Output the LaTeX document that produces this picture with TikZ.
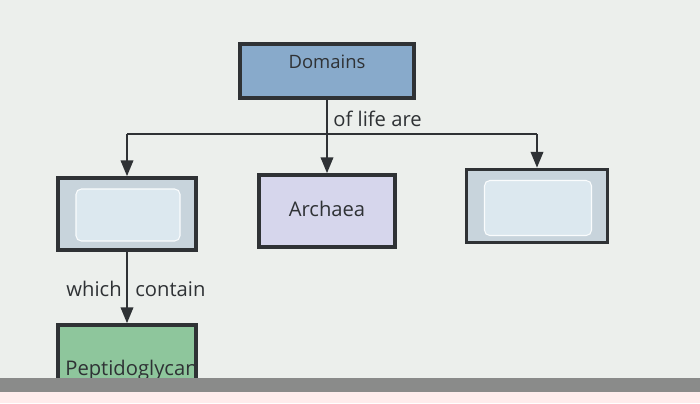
\documentclass[tikz,border=0pt]{standalone}
\usepackage{fontspec}
\setmainfont{Open Sans}[Ligatures=NoCommon]
\usepackage{tikz}
\usetikzlibrary{positioning,arrows.meta}
\definecolor{ink}{HTML}{2F3235}
\definecolor{bgpaper}{HTML}{ECEFEC}
\definecolor{domfill}{HTML}{88AACB}
\definecolor{archfill}{HTML}{D6D6EC}
\definecolor{slotfill}{HTML}{C8D4DC}
\definecolor{slotin}{HTML}{DCE8EF}
\definecolor{pepfill}{HTML}{8EC69C}
\definecolor{barfill}{HTML}{8A8B8A}
\tikzset{
  box/.style={draw=ink, line width=2pt, inner sep=0pt},
  slot/.style={draw=white!85!slotin, line width=0.6pt, rounded corners=3pt, fill=slotin, inner sep=0pt},
  arr/.style={draw=ink, line width=1.4pt, -{Triangle[length=9pt,width=7pt]}},
  link/.style={draw=ink, line width=1.4pt},
  txt/.style={text=ink, inner sep=0pt, font=\fontsize{11.5}{13}\selectfont}
}
\begin{document}
\begin{tikzpicture}[x=0.02cm,y=-0.02cm]
  % Background
  \fill[bgpaper] (0,0) rectangle (700,403);
  \useasboundingbox (0,0) rectangle (700,403);

  % Top concept
  \node[box, fill=domfill, minimum width=174*0.02cm, minimum height=54*0.02cm,
        label={[txt, font=\fontsize{10.5}{12}\selectfont, yshift=5pt]center:Domains}] (dom) at (327,71) {};

  % Domain boxes
  \node[box, fill=slotfill, minimum width=138*0.02cm, minimum height=72*0.02cm] (left) at (127,214) {};
  \node[slot, minimum width=104*0.02cm, minimum height=52*0.02cm] (leftin) at (128,215) {};
  \node[box, fill=archfill, minimum width=136*0.02cm, minimum height=72*0.02cm,
        label={[txt, yshift=1pt]center:Archaea}] (arch) at (327,211) {};
  \node[box, fill=slotfill, minimum width=141*0.02cm, minimum height=73*0.02cm] (right) at (537,206) {};
  \node[slot, minimum width=107*0.02cm, minimum height=55*0.02cm] (rightin) at (538,208) {};

  % Bottom concept
  \node[box, fill=pepfill, minimum width=138*0.02cm, minimum height=56*0.02cm] (pep) at (127,353) {};
  \node[txt, anchor=base west] (peptxt) at (65,375) {Peptidoglycan};

  % Connectors
  \coordinate (jn) at (327,134);
  \draw[link] (left.north |- jn) -- (right.north |- jn);
  \draw[arr] (dom.south) -- (arch.north);
  \draw[arr] (left.north |- jn) -- (left.north);
  \draw[arr] (right.north |- jn) -- (right.north);
  \draw[arr] (left.south) -- (pep.north);

  % Link labels
  \node[txt, anchor=base west] (oflife) at (333,126) {of life are};
  \node[txt, anchor=base east] (which) at (122,296) {which};
  \node[txt, anchor=base west] (contain) at (135,296) {contain};

  % Bottom bar
  \fill[barfill] (0,378) rectangle (700,392);
  \fill[white!70!pink] (0,392) rectangle (700,403);
\end{tikzpicture}
\end{document}
